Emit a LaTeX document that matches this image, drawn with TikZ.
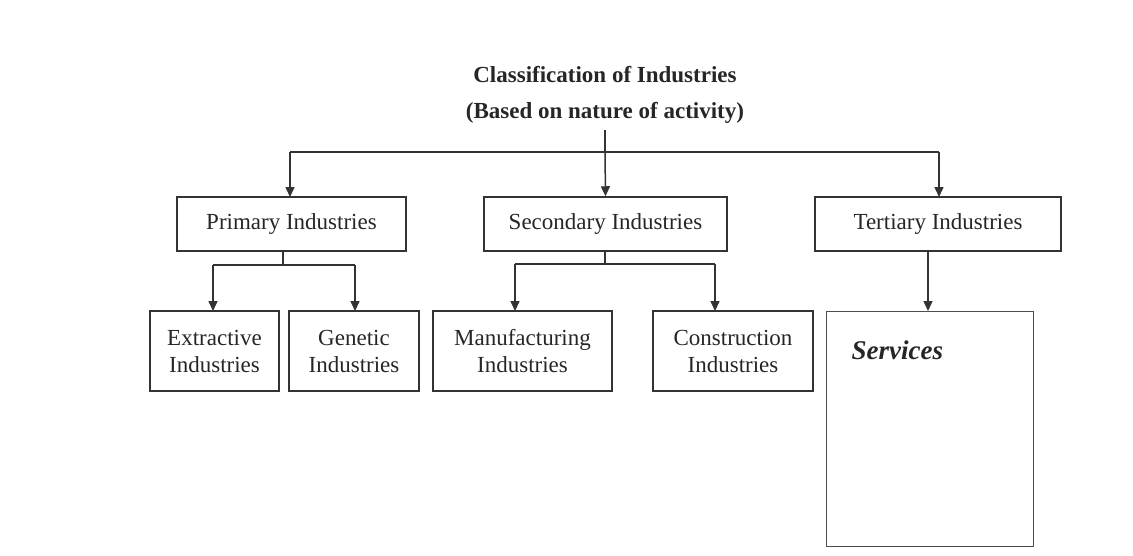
\documentclass[tikz,border=0pt]{standalone}
\usepackage{fontspec}
\setmainfont{Liberation Serif}
\usetikzlibrary{arrows.meta}
\begin{document}
\begin{tikzpicture}[x=1pt,y=-1pt,
  bx/.style={draw=black!80,line width=1.5pt,inner sep=0pt},
  tx/.style={font=\fontsize{23}{27}\selectfont,align=center,text=black!85},
  ln/.style={draw=black!80,line width=1.5pt},
  ar/.style={ln,-{Triangle[length=10pt,width=9pt]}}]
\useasboundingbox (0,0) rectangle (1133,555);
\node[tx,font=\fontsize{23}{36}\selectfont\bfseries] (title) at (605,95) {Classification of Industries\\(Based on nature of activity)};
\node[bx,minimum width=229,minimum height=54] (p) at (291.5,224) {};
\node[tx] at (p) {Primary Industries};
\node[bx,minimum width=243,minimum height=54] (s) at (605.5,224) {};
\node[tx] at (s) {Secondary Industries};
\node[bx,minimum width=246,minimum height=54] (t) at (938,224) {};
\node[tx] at (t) {Tertiary Industries};
\node[bx,minimum width=129,minimum height=80] (e) at (214.5,351) {};
\node[tx] at (e) {Extractive\\Industries};
\node[bx,minimum width=130,minimum height=80] (g) at (354,351) {};
\node[tx] at (g) {Genetic\\Industries};
\node[bx,minimum width=179,minimum height=80] (m) at (522.5,351) {};
\node[tx] at (m) {Manufacturing\\Industries};
\node[bx,minimum width=160,minimum height=80] (c) at (733,351) {};
\node[tx] at (c) {Construction\\Industries};
\node[draw=black!70,line width=1pt,minimum width=207,minimum height=235,inner sep=0pt] (sv) at (929.5,428.5) {};
\node[tx,anchor=west,font=\fontsize{27}{30}\selectfont\bfseries\itshape] (svt) at (848,350) {Services};
\coordinate (j) at (605,152);
\draw[ln] (605,130) -- (j);
\draw[ar] (j) -- (s.north);
\draw[ln] (290,152) -- (939,152);
\draw[ar] (290,152) -- (290,197);
\draw[ar] (939,152) -- (939,197);
\draw[ln] (283,251) -- (283,265);
\draw[ln] (213,265) -- (355,265);
\draw[ar] (213,265) -- (213,311);
\draw[ar] (355,265) -- (355,311);
\draw[ln] (605,251) -- (605,264);
\draw[ln] (515,264) -- (715,264);
\draw[ar] (515,264) -- (515,311);
\draw[ar] (715,264) -- (715,311);
\draw[ar] (928,251) -- (928,311);
\end{tikzpicture}
\end{document}
